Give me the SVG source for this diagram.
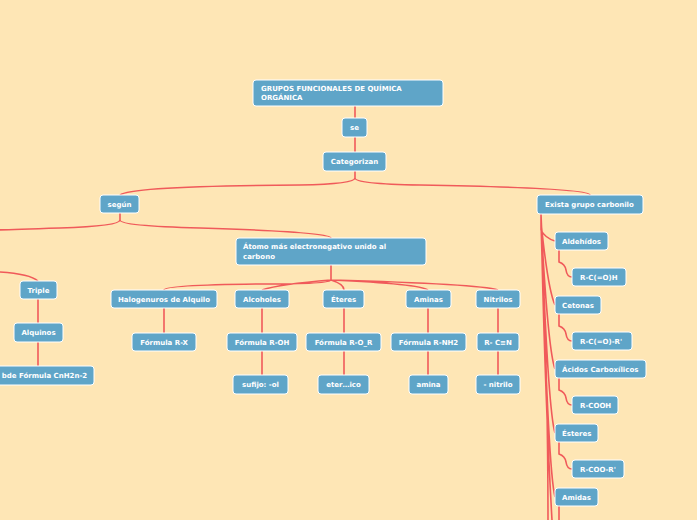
<svg xmlns="http://www.w3.org/2000/svg" width="697" height="520" viewBox="0 0 697 520">
<style>
.n rect{fill:#5fa5c8;stroke:#ffffff;stroke-width:1}
.n text{font-family:"DejaVu Sans",Verdana,sans-serif;font-weight:bold;font-size:7px;fill:#ffffff}
.c path{fill:none;stroke:#f05a5a;stroke-width:1.6}
</style>
<rect width="697" height="520" fill="#fee6b5"/>
<g class="c">
<path d="M355 106V118M355 137V152M355 171V178Q355 184 300 185Q130 186 120 195M355 178Q355 184 420 185Q590 188 590 195"/>
<path d="M120 213V220Q120 226 200 228Q330 232 331 238M120 220Q120 226 60 228Q0 230 -5 230"/>
<path d="M0 272Q30 274 38 281M38 299V323M38 342V366"/>
<path d="M331 265V280Q331 284 260 284Q164 285 164 290M331 280Q280 284 262 290M331 280Q344 284 344 290M331 280Q420 284 428 290M331 280Q480 284 498 290"/>
<path d="M164 308V333M262 308V333M262 351V375M344 308V333M344 351V375M428 308V333M428 351V375M498 308V333M498 351V375"/>
<path d="M541 214V230Q545 238 555 241M541 222Q548 290 555 305M541 222Q548 350 555 369M541 222Q548 410 555 433M541 222Q548 470 555 497M541 214Q548 380 548 520M541 214Q545 400 552 520"/>
<path d="M559 250V262Q565 264 566 270Q567 277 572 277M559 314V326Q565 328 566 334Q567 341 572 341M559 378V390Q565 392 566 398Q567 405 572 405M559 442V454Q565 456 566 462Q567 469 572 469M559 506V520"/>
</g>
<g class="n" id="n1"><rect x="253" y="80" width="190" height="26" rx="3"/><text x="261" y="91">GRUPOS FUNCIONALES DE QUÍMICA</text><text x="261" y="100">ORGÁNICA</text></g>
<g class="n" id="n2"><rect x="342" y="118" width="25" height="19" rx="3"/><text x="354.5" y="130" text-anchor="middle">se</text></g>
<g class="n" id="n3"><rect x="323" y="152" width="63" height="19" rx="3"/><text x="354.5" y="164" text-anchor="middle">Categorizan</text></g>
<g class="n" id="n4"><rect x="100" y="195" width="39" height="18" rx="3"/><text x="119.5" y="207" text-anchor="middle">según</text></g>
<g class="n" id="n5"><rect x="537" y="195" width="106" height="19" rx="3"/><text x="545" y="207">Exista  grupo carbonilo</text></g>
<g class="n" id="n6"><rect x="236" y="238" width="190" height="27" rx="3"/><text x="243" y="249">Átomo más electronegativo unido al</text><text x="243" y="259">carbono</text></g>
<g class="n" id="n7"><rect x="20" y="281" width="37" height="18" rx="3"/><text x="38.5" y="293" text-anchor="middle">Triple</text></g>
<g class="n" id="n8"><rect x="14" y="323" width="49" height="19" rx="3"/><text x="38.5" y="335" text-anchor="middle">Alquinos</text></g>
<g class="n" id="n9"><rect x="-5" y="366" width="99" height="19" rx="3"/><text x="44.5" y="378" text-anchor="middle">bde Fórmula CnH2n-2</text></g>
<g class="n" id="n10"><rect x="111" y="290" width="106" height="18" rx="3"/><text x="164" y="302" text-anchor="middle">Halogenuros de Alquilo</text></g>
<g class="n" id="n11"><rect x="235" y="290" width="54" height="18" rx="3"/><text x="262" y="302" text-anchor="middle">Alcoholes</text></g>
<g class="n" id="n12"><rect x="323" y="290" width="41" height="18" rx="3"/><text x="343.5" y="302" text-anchor="middle">Éteres</text></g>
<g class="n" id="n13"><rect x="406" y="290" width="45" height="18" rx="3"/><text x="428.5" y="302" text-anchor="middle">Aminas</text></g>
<g class="n" id="n14"><rect x="476" y="290" width="44" height="18" rx="3"/><text x="498" y="302" text-anchor="middle">Nitrilos</text></g>
<g class="n" id="n15"><rect x="132" y="333" width="64" height="18" rx="3"/><text x="164" y="345" text-anchor="middle">Fórmula R-X</text></g>
<g class="n" id="n16"><rect x="227" y="333" width="70" height="18" rx="3"/><text x="262" y="345" text-anchor="middle">Fórmula R-OH</text></g>
<g class="n" id="n17"><rect x="306" y="333" width="75" height="18" rx="3"/><text x="343.5" y="345" text-anchor="middle">Fórmula R-O_R</text></g>
<g class="n" id="n18"><rect x="391" y="333" width="75" height="18" rx="3"/><text x="428.5" y="345" text-anchor="middle">Fórmula R-NH2</text></g>
<g class="n" id="n19"><rect x="477" y="333" width="42" height="18" rx="3"/><text x="498" y="345" text-anchor="middle">R- C≡N</text></g>
<g class="n" id="n20"><rect x="233" y="375" width="55" height="19" rx="3"/><text x="260.5" y="387" text-anchor="middle">sufijo: -ol</text></g>
<g class="n" id="n21"><rect x="318" y="375" width="51" height="19" rx="3"/><text x="343.5" y="387" text-anchor="middle">eter…ico</text></g>
<g class="n" id="n22"><rect x="409" y="375" width="39" height="19" rx="3"/><text x="428.5" y="387" text-anchor="middle">amina</text></g>
<g class="n" id="n23"><rect x="476" y="375" width="44" height="19" rx="3"/><text x="498" y="387" text-anchor="middle">- nitrilo</text></g>
<g class="n" id="n24"><rect x="555" y="232" width="53" height="18" rx="3"/><text x="562" y="244">Aldehídos</text></g>
<g class="n" id="n25"><rect x="572" y="268" width="54" height="18" rx="3"/><text x="580" y="280">R-C(=O)H</text></g>
<g class="n" id="n26"><rect x="555" y="296" width="46" height="18" rx="3"/><text x="562" y="308">Cetonas</text></g>
<g class="n" id="n27"><rect x="572" y="332" width="60" height="18" rx="3"/><text x="580" y="344">R-C(=O)-R'</text></g>
<g class="n" id="n28"><rect x="555" y="360" width="91" height="18" rx="3"/><text x="562" y="372">Ácidos Carboxílicos</text></g>
<g class="n" id="n29"><rect x="572" y="396" width="46" height="18" rx="3"/><text x="580" y="408">R-COOH</text></g>
<g class="n" id="n30"><rect x="555" y="424" width="43" height="18" rx="3"/><text x="562" y="436">Ésteres</text></g>
<g class="n" id="n31"><rect x="572" y="460" width="52" height="18" rx="3"/><text x="580" y="472">R-COO-R'</text></g>
<g class="n" id="n32"><rect x="555" y="488" width="43" height="18" rx="3"/><text x="562" y="500">Amidas</text></g>
</svg>
